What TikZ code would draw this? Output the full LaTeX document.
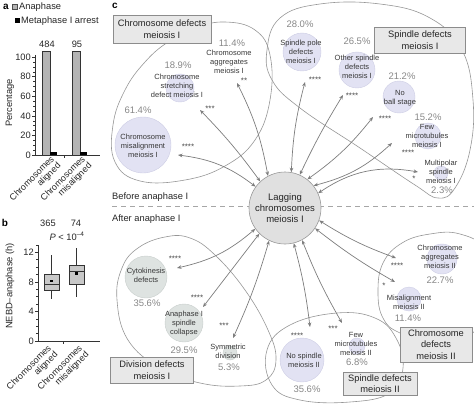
\documentclass[tikz,border=0pt]{standalone}
\usepackage{fontspec}
\setmainfont{Liberation Sans}
\usetikzlibrary{arrows.meta}
\definecolor{lav}{RGB}{226,226,243}
\definecolor{lavline}{RGB}{205,205,228}
\definecolor{grn}{RGB}{222,227,225}
\definecolor{grnline}{RGB}{200,206,204}
\definecolor{pctgray}{RGB}{135,135,135}
\definecolor{lblgray}{RGB}{55,55,55}
\definecolor{encl}{RGB}{150,150,150}
\definecolor{boxfill}{RGB}{232,232,232}
\definecolor{boxline}{RGB}{140,140,140}
\definecolor{arrgray}{RGB}{125,125,125}
\definecolor{bargray}{RGB}{180,180,180}
\definecolor{boxgray}{RGB}{200,200,200}
\begin{document}
\begin{tikzpicture}[x=1pt,y=-1pt,
  pct/.style={text=pctgray,font=\fontsize{9.5}{11}\selectfont,inner sep=0pt},
  lbl/.style={text=lblgray,font=\fontsize{7.5}{9}\selectfont,align=center,inner sep=0pt},
  ast/.style={text=black!70,font=\fontsize{8}{9}\selectfont,inner sep=0pt},
  bub/.style={circle,fill=lav,draw=lavline,line width=0.4pt,inner sep=0pt},
  gbub/.style={circle,fill=grn,draw=grnline,line width=0.4pt,inner sep=0pt},
  boxs/.style={draw=boxline,fill=boxfill,line width=0.6pt,align=center,text=black!85,
     font=\fontsize{9.3}{11.5}\selectfont,inner sep=0pt},
  encls/.style={draw=encl,line width=0.6pt},
  arr/.style={draw=arrgray,line width=0.7pt,{Stealth[length=4.5pt,width=3.6pt]}-{Stealth[length=4.5pt,width=3.6pt]}},
  axl/.style={font=\fontsize{9.3}{10.5}\selectfont,text=black!85,inner sep=0pt},
  xlab/.style={font=\fontsize{9}{9.2}\selectfont,text=black!85,inner sep=0pt,anchor=north east,rotate=45,align=right},
  panel/.style={font=\fontsize{10}{12}\bfseries\selectfont,inner sep=0pt}]
\useasboundingbox (0,0) rectangle (474,404);

% ================= panel a =================
\node[panel] (la) at (6,7) {a};
\node[draw=black!70,fill=bargray,minimum size=5pt,inner sep=0pt] (lega) at (15,7) {};
\node[axl,anchor=west] (legat) at (19,7) {Anaphase};
\node[fill=black,minimum size=5pt,inner sep=0pt] (legb) at (17,21) {};
\node[axl,anchor=west] (legbt) at (21,21) {Metaphase I arrest};
\draw[black!80,line width=0.6pt] (35,55) -- (35,155) -- (100,155);
\draw[black!80,line width=0.5pt] (64,155) -- (64,158);
\foreach \v in {0,5,...,100} \draw[black!80,line width=0.4pt] (35,{155-0.98*\v}) -- ++(-1.8,0);
\foreach \v in {0,20,...,100} {
  \draw[black!80,line width=0.6pt] (35,{155-0.98*\v}) -- ++(-3,0);
  \node[axl,anchor=east] (ya\v) at (31,{155-0.98*\v}) {\v};}
\draw[black!80,line width=0.5pt,fill=bargray] (42,155) rectangle (50,51);
\fill[black] (50,155) rectangle (57,152.2);
\draw[black!80,line width=0.5pt,fill=bargray] (72,155) rectangle (80,51);
\fill[black] (80,155) rectangle (87,152.2);
\node[axl] (n484) at (47,44) {484};
\node[axl] (n95) at (77,44) {95};
\node[axl,rotate=90] (ylaba) at (10,103) {Percentage};
\node[xlab] (xa1) at (50,155) {Chromosomes\\aligned};
\node[xlab] (xa2) at (81,155) {Chromosomes\\misaligned};

% ================= panel b =================
\node[panel] (lb) at (5,223) {b};
\node[axl] (n365) at (48,223) {365};
\node[axl] (n74) at (76,223) {74};
\node[axl] (pval) at (67,236) {\textit{P} < 10\textsuperscript{–4}};
\draw[black!80,line width=0.6pt] (38,245) -- (38,341) -- (100,341);
\draw[black!80,line width=0.5pt] (63,341) -- (63,344);
\foreach \v in {0,1,...,13} \draw[black!80,line width=0.4pt] (38,{341-7.4*\v}) -- ++(-1.8,0);
\foreach \v in {0,4,8,12} {
  \draw[black!80,line width=0.6pt] (38,{341-7.4*\v}) -- ++(-3,0);
  \node[axl,anchor=east] (yb\v) at (34,{341-7.4*\v}) {\v};}
\draw[black!80,line width=0.5pt] (51.5,290) -- (51.5,298.5) (51.5,274) -- (51.5,255);
\draw[black!80,line width=0.5pt,fill=boxgray] (44,290) rectangle (59,274);
\draw[black!80,line width=0.5pt] (44,284.3) -- (59,284.3);
\fill[black] (50.2,279.7) rectangle (52.8,282.3);
\draw[black!80,line width=0.5pt] (76.5,284.3) -- (76.5,296.7) (76.5,265) -- (76.5,248);
\draw[black!80,line width=0.5pt,fill=boxgray] (69,284.3) rectangle (84,265);
\draw[black!80,line width=0.5pt] (69,271.7) -- (84,271.7);
\fill[black] (75.2,272) rectangle (77.8,274.6);
\node[axl,rotate=90] (ylabb) at (10,286) {NEBD–anaphase (h)};
\node[xlab] (xb1) at (47,344) {Chromosomes\\aligned};
\node[xlab] (xb2) at (78,344) {Chromosomes\\misaligned};

% ================= panel c =================
\node[panel] (lc) at (115,6) {c};

% enclosures
\draw[encls] plot[smooth cycle,tension=0.7] coordinates {(113,125) (125,90) (145,62) (168,42) (195,28) (225,22) (255,30) (270,55) (270,100) (255,140) (225,166) (185,180) (140,181) (115,162)};
\draw[encls] plot[smooth cycle,tension=0.7] coordinates {(267,50) (280,18) (320,4) (380,4) (430,18) (462,50) (473,100) (470,150) (455,188) (438,198) (415,185) (360,148) (300,108) (272,80)};
\begin{scope}
\clip (0,0) rectangle (474,404);
\draw[encls] plot[smooth cycle,tension=0.7] coordinates {(378,292) (383,263) (402,243) (430,234) (460,234) (485,250) (492,290) (478,328) (440,345) (400,333) (383,318)};
\draw[encls] plot[smooth cycle,tension=0.7] coordinates {(267,350) (290,325) (337,313) (375,318) (396,338) (403,368) (390,393) (350,402) (300,400) (272,385)};
\end{scope}
\draw[encls] plot[smooth cycle,tension=0.7] coordinates {(117,300) (122,268) (138,248) (165,237) (190,238) (215,255) (245,290) (268,330) (276,360) (266,380) (240,386) (200,383) (160,368) (128,340)};

% dashed separator
\draw[draw=black!35,line width=0.8pt,dash pattern=on 5pt off 4pt] (112,206) -- (474,206);
\node[axl,anchor=west] (before) at (112,197) {Before anaphase I};
\node[axl,anchor=west] (after) at (112,219) {After anaphase I};

% bubbles
\node[bub,minimum size=56pt] (bMisI) at (143,145) {};
\node[bub,minimum size=28pt] (bStr) at (180,88) {};
\node[bub,minimum size=38pt] (bPole) at (302,52) {};
\node[bub,minimum size=36pt] (bOth) at (357,70) {};
\node[bub,minimum size=32pt] (bBall) at (399,97) {};
\node[bub,minimum size=26pt] (bFewI) at (428,136) {};
\node[bub,minimum size=14pt] (bMult) at (441,173) {};
\node[bub,minimum size=30pt] (bAggII) at (442,259) {};
\node[bub,minimum size=24pt] (bMisII) at (409,299) {};
\node[bub,minimum size=44pt] (bNoSp) at (302,360) {};
\node[bub,minimum size=16pt] (bFewII) at (357,346) {};
\node[gbub,minimum size=42pt] (bCyto) at (146,277) {};
\node[gbub,minimum size=38pt] (bAna) at (184,323) {};
\node[gbub,minimum size=14pt] (bSym) at (230,353) {};

% central node
\node[circle,fill=black!12,draw=black!40,line width=0.6pt,minimum size=72pt,inner sep=0pt,
  align=center,font=\fontsize{9.5}{11}\selectfont,text=black!85] (lag) at (285,208) {Lagging\\chromosomes\\meiosis I};

% arrow free ends
\coordinate (eMisI) at (178,155);
\coordinate (eStr) at (200,110);
\coordinate (eAggI) at (237,83);
\coordinate (ePole) at (305,82);
\coordinate (eOth) at (343,95);
\coordinate (eBall) at (373,117);
\coordinate (eFewI) at (392,143);
\coordinate (eMult) at (418,172);
\coordinate (eAggII) at (396,258);
\coordinate (eMisII) at (395,282);
\coordinate (eNoSp) at (310,327);
\coordinate (eFewII) at (342,323);
\coordinate (eCyto) at (177,268);
\coordinate (eAna) at (203,307);
\coordinate (eSym) at (233,338);

\draw[arr] (lag.144) to[bend right=15] (eMisI);
\draw[arr] (lag.133) to[bend right=4] (eStr);
\draw[arr] (lag.118) to[bend right=8] (eAggI);
\draw[arr] (lag.80) to[bend left=6] (ePole);
\draw[arr] (lag.66) to[bend left=3] (eOth);
\draw[arr] (lag.52) to[bend right=8] (eBall);
\draw[arr] (lag.38) to[bend right=14] (eFewI);
\draw[arr] (lag.24) to[bend left=22] (eMult);
\draw[arr] (lag.-20) to[bend right=6] (eAggII);
\draw[arr] (lag.-34) to[bend right=4] (eMisII);
\draw[arr] (lag.-76) to[bend left=4] (eNoSp);
\draw[arr] (lag.-62) to[bend right=4] (eFewII);
\draw[arr] (lag.215) to[bend left=14] (eCyto);
\draw[arr] (lag.225) to (eAna);
\draw[arr] (lag.244) to[bend left=4] (eSym);

% texts: chromosome defects meiosis I
\node[pct] (p614) at (138,110) {61.4\%};
\node[lbl] (tMisI) at (143,146) {Chromosome\\misalignment\\meiosis I};
\node[ast] (aMisI) at (188,147) {****};
\node[pct] (p189) at (178,65) {18.9\%};
\node[lbl] (tStr) at (177,86) {Chromosome\\stretching\\defect meiosis I};
\node[ast] (aStr) at (210,109) {***};
\node[pct] (p114) at (232,43) {11.4\%};
\node[lbl] (tAggI) at (229,62) {Chromosome\\aggregates\\meiosis I};
\node[ast] (aAggI) at (244,81) {**};

% spindle defects meiosis I
\node[pct] (p280) at (300,24) {28.0\%};
\node[lbl] (tPole) at (301,52) {Spindle pole\\defects\\meiosis I};
\node[ast] (aPole) at (315,80) {****};
\node[pct] (p265) at (357,41) {26.5\%};
\node[lbl] (tOth) at (357,67) {Other spindle\\defects\\meiosis I};
\node[ast] (aOth) at (352,96) {****};
\node[pct] (p212) at (402,76) {21.2\%};
\node[lbl] (tBall) at (400,98) {No\\ball stage};
\node[ast] (aBall) at (385,119) {****};
\node[pct] (p152) at (428,117) {15.2\%};
\node[lbl] (tFewI) at (427,136) {Few\\microtubules\\meiosis I};
\node[ast] (aFewI) at (408,153) {****};
\node[lbl] (tMult) at (441,172) {Multipolar\\spindle\\meiosis I};
\node[pct] (p23) at (442,190) {2.3\%};
\node[ast] (aMult) at (414,179) {*};

% chromosome defects meiosis II
\node[lbl] (tAggII) at (440,257) {Chromosome\\aggregates\\meiosis II};
\node[pct] (p227) at (440,280) {22.7\%};
\node[ast] (aAggII) at (397,266) {****};
\node[ast] (aMisII) at (384,286) {*};
\node[lbl] (tMisII) at (409,302) {Misalignment\\meiosis II};
\node[pct] (p114b) at (408,318) {11.4\%};

% spindle defects meiosis II
\node[lbl] (tNoSp) at (304,360) {No spindle\\meiosis II};
\node[pct] (p356b) at (307,389) {35.6\%};
\node[ast] (aNoSp) at (297,336) {****};
\node[ast] (aFewII) at (333,329) {***};
\node[lbl] (tFewII) at (356,344) {Few\\microtubules\\meiosis II};
\node[pct] (p68) at (357,362) {6.8\%};

% division defects meiosis I
\node[lbl] (tCyto) at (146,275) {Cytokinesis\\defects};
\node[pct] (p356) at (147,303) {35.6\%};
\node[ast] (aCyto) at (175,259) {****};
\node[lbl] (tAna) at (184,324) {Anaphase I\\spindle\\collapse};
\node[pct] (p295) at (184,350) {29.5\%};
\node[ast] (aAna) at (197,298) {****};
\node[ast] (aSym) at (224,326) {***};
\node[lbl] (tSym) at (228,351) {Symmetric\\division};
\node[pct] (p53) at (229,367) {5.3\%};

% category boxes
\node[boxs,minimum width=98pt,minimum height=28pt] (boxCDI) at (162,29) {Chromosome defects\\meiosis I};
\node[boxs,minimum width=91pt,minimum height=26pt] (boxSPI) at (420,40) {Spindle defects\\meiosis I};
\node[boxs,minimum width=72pt,minimum height=35pt] (boxCDII) at (436,344.5) {Chromosome\\defects\\meiosis II};
\node[boxs,minimum width=74pt,minimum height=23pt] (boxSPII) at (380,383.5) {Spindle defects\\meiosis II};
\node[boxs,minimum width=83pt,minimum height=26pt] (boxDD) at (152,370) {Division defects\\meiosis I};
\end{tikzpicture}
\end{document}
